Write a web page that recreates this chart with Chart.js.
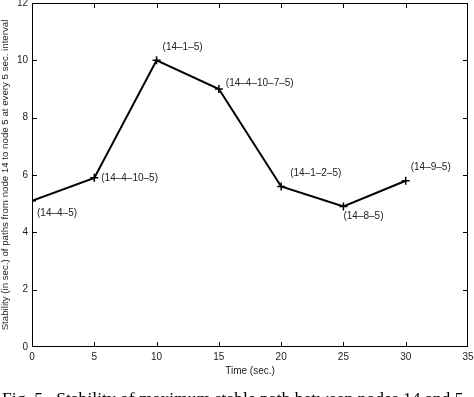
<!DOCTYPE html>
<html><head><meta charset="utf-8">
<script src="https://cdn.jsdelivr.net/npm/chart.js@4/dist/chart.umd.min.js"></script>
<style>html,body{margin:0;padding:0;background:#fff}#wrap{width:474px;height:397px;position:relative}</style>
</head><body><div id="wrap"><canvas id="c" width="474" height="397"></canvas></div>
<script>
const times = [0, 5, 10, 15, 20, 25, 30];
const stability = [5.1, 5.9, 10, 9, 5.6, 4.9, 5.8];
const pathLabels = ['(14–4–5)', '(14–4–10–5)', '(14–1–5)', '(14–4–10–7–5)', '(14–1–2–5)', '(14–8–5)', '(14–9–5)'];
const xTitle = 'Time (sec.)';
const yTitle = 'Stability (in sec.) of paths from node 14 to node 5 at every 5 sec. interval';
const caption = 'Fig. 5.  Stability of maximum stable path between nodes 14 and 5.';

const labelOffsets = [[5,12],[7,0],[6,-13],[7,-6],[9,-13],[0,10],[5,-13]];

const decor = {
  id: 'decor',
  afterDraw(chart) {
    const {ctx, chartArea: a, scales: {x, y}} = chart;
    ctx.save();
    ctx.strokeStyle = '#000'; ctx.lineWidth = 1;
    ctx.strokeRect(a.left + 0.5, a.top + 0.5, a.right - a.left - 1, a.bottom - a.top - 1);
    ctx.beginPath();
    for (let v = 5; v < 35; v += 5) {
      const px = Math.round(x.getPixelForValue(v)) + 0.5;
      ctx.moveTo(px, a.bottom); ctx.lineTo(px, a.bottom - 5);
      ctx.moveTo(px, a.top); ctx.lineTo(px, a.top + 5);
    }
    for (let v = 2; v < 12; v += 2) {
      const py = Math.round(y.getPixelForValue(v)) + 0.5;
      ctx.moveTo(a.left, py); ctx.lineTo(a.left + 5, py);
      ctx.moveTo(a.right, py); ctx.lineTo(a.right - 5, py);
    }
    ctx.stroke();
    ctx.fillStyle = '#222';
    ctx.font = '10px "Liberation Sans", Arial, sans-serif';
    ctx.textBaseline = 'middle'; ctx.textAlign = 'left';
    const meta = chart.getDatasetMeta(0);
    meta.data.forEach((pt, i) => {
      const o = labelOffsets[i];
      ctx.fillText(pathLabels[i], pt.x + o[0], pt.y + o[1]);
    });
    ctx.fillStyle = '#000';
    ctx.font = '18px "Liberation Serif", "DejaVu Serif", serif';
    const w = ctx.measureText(caption).width;
    const fs = 18 * 466 / w;
    ctx.font = fs.toFixed(2) + 'px "Liberation Serif", "DejaVu Serif", serif';
    ctx.textBaseline = 'alphabetic';
    ctx.fillText(caption, 2, 404);
    ctx.restore();
  }
};

new Chart(document.getElementById('c'), {
  type: 'line',
  data: {
    datasets: [{
      data: times.map((t, i) => ({x: t, y: stability[i]})),
      borderColor: '#000', borderWidth: 2, tension: 0,
      pointStyle: 'cross', pointRadius: 4, pointBorderWidth: 1.5,
      pointBorderColor: '#000', pointBackgroundColor: '#000', fill: false
    }]
  },
  options: {
    responsive: false, animation: false, devicePixelRatio: 1,
    layout: {autoPadding: false, padding: {top: 3, right: 6, left: 0, bottom: 20}},
    plugins: {legend: {display: false}, tooltip: {enabled: false}},
    scales: {
      x: {
        type: 'linear', min: 0, max: 35,
        grid: {display: false, drawTicks: false, tickLength: 0}, border: {display: false},
        ticks: {stepSize: 5, color: '#222', font: {size: 10, family: '"Liberation Sans", Arial, sans-serif'}, padding: 4, maxRotation: 0},
        title: {display: true, text: xTitle, color: '#222', font: {size: 10, family: '"Liberation Sans", Arial, sans-serif'}, padding: {top: 0, bottom: 0}},
        afterFit(s) { s.height = 30; s.paddingLeft = 0; s.paddingRight = 0; }
      },
      y: {
        type: 'linear', min: 0, max: 12,
        grid: {display: false, drawTicks: false, tickLength: 0}, border: {display: false},
        ticks: {stepSize: 2, color: '#222', font: {size: 10, family: '"Liberation Sans", Arial, sans-serif'}, padding: 4},
        title: {display: true, text: yTitle, color: '#222', font: {size: 9.7, family: '"Liberation Sans", Arial, sans-serif'}, padding: {top: 0, bottom: 2}},
        afterFit(s) { s.width = 32; s.paddingTop = 0; s.paddingBottom = 0; }
      }
    }
  },
  plugins: [decor]
});
</script></body></html>
